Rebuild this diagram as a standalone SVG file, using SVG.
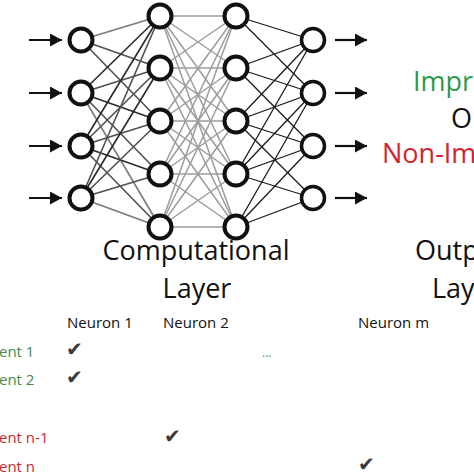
<svg xmlns="http://www.w3.org/2000/svg" width="474" height="474" viewBox="0 0 474 474">
<style>
.n{fill:#fff;stroke:#111;stroke-width:4}
.no{fill:#fff;stroke:#111;stroke-width:3.5}
.c1{stroke:#2a2a2a;stroke-width:1.6}
.c2{stroke:#505050;stroke-width:1.6}
.c3{stroke:#7a7a7a;stroke-width:1.6}
.h{stroke:#9c9c9c;stroke-width:1.5}
.o{stroke:#1a1a1a;stroke-width:1.3}
.arr{stroke:#111;stroke-width:2.2;fill:none}
.big{font-family:"Open Sans","DejaVu Sans",sans-serif;font-size:27px;fill:#111}
.sm{font-family:"Open Sans","DejaVu Sans",sans-serif;font-size:15px;fill:#111}
.gl{font-family:"Open Sans","DejaVu Sans",sans-serif;font-size:15px;fill:#3f8a55}
.rl{font-family:"Open Sans","DejaVu Sans",sans-serif;font-size:15px;fill:#c8283a}
.ck{font-family:"DejaVu Sans",sans-serif;font-size:20px;fill:#3a3a3a}
</style>
<defs>
<marker id="ah" markerUnits="userSpaceOnUse" markerWidth="12" markerHeight="13" refX="12" refY="6.5" orient="auto"><path d="M0,0 L12,6.5 L0,13 z" fill="#111"/></marker>
<marker id="ah2" markerUnits="userSpaceOnUse" markerWidth="12" markerHeight="13" refX="12" refY="6.5" orient="auto"><path d="M0,0 L12,6.5 L0,13 z" fill="#111"/></marker>
</defs>
<g id="connectors">
<line class="arr" x1="29" y1="40" x2="62" y2="40" marker-end="url(#ah)"/>
<line class="arr" x1="29" y1="93" x2="62" y2="93" marker-end="url(#ah)"/>
<line class="arr" x1="29" y1="146" x2="62" y2="146" marker-end="url(#ah)"/>
<line class="arr" x1="29" y1="198" x2="62" y2="198" marker-end="url(#ah)"/>
<line class="arr" x1="335" y1="40" x2="367" y2="40" marker-end="url(#ah2)"/>
<line class="arr" x1="335" y1="93" x2="367" y2="93" marker-end="url(#ah2)"/>
<line class="arr" x1="335" y1="146" x2="367" y2="146" marker-end="url(#ah2)"/>
<line class="arr" x1="335" y1="198" x2="367" y2="198" marker-end="url(#ah2)"/>
<line class="c3" x1="81" y1="40" x2="160" y2="16"/>
<line class="c2" x1="81" y1="40" x2="160" y2="68"/>
<line class="c2" x1="81" y1="40" x2="160" y2="121"/>
<line class="c1" x1="81" y1="93" x2="160" y2="16"/>
<line class="c2" x1="81" y1="93" x2="160" y2="68"/>
<line class="c1" x1="81" y1="93" x2="160" y2="121"/>
<line class="c2" x1="81" y1="93" x2="160" y2="174"/>
<line class="c3" x1="81" y1="93" x2="160" y2="227"/>
<line class="c1" x1="81" y1="146" x2="160" y2="16"/>
<line class="c2" x1="81" y1="146" x2="160" y2="68"/>
<line class="c2" x1="81" y1="146" x2="160" y2="121"/>
<line class="c1" x1="81" y1="146" x2="160" y2="174"/>
<line class="c2" x1="81" y1="146" x2="160" y2="227"/>
<line class="c2" x1="81" y1="198" x2="160" y2="16"/>
<line class="c1" x1="81" y1="198" x2="160" y2="68"/>
<line class="c2" x1="81" y1="198" x2="160" y2="121"/>
<line class="c2" x1="81" y1="198" x2="160" y2="174"/>
<line class="c3" x1="81" y1="198" x2="160" y2="227"/>
<line class="h" x1="160" y1="16" x2="236" y2="16"/>
<line class="h" x1="160" y1="16" x2="236" y2="68"/>
<line class="h" x1="160" y1="16" x2="236" y2="121"/>
<line class="h" x1="160" y1="16" x2="236" y2="174"/>
<line class="h" x1="160" y1="16" x2="236" y2="227"/>
<line class="h" x1="160" y1="68" x2="236" y2="16"/>
<line class="h" x1="160" y1="68" x2="236" y2="68"/>
<line class="h" x1="160" y1="68" x2="236" y2="121"/>
<line class="h" x1="160" y1="68" x2="236" y2="174"/>
<line class="h" x1="160" y1="68" x2="236" y2="227"/>
<line class="h" x1="160" y1="121" x2="236" y2="16"/>
<line class="h" x1="160" y1="121" x2="236" y2="68"/>
<line class="h" x1="160" y1="121" x2="236" y2="121"/>
<line class="h" x1="160" y1="121" x2="236" y2="174"/>
<line class="h" x1="160" y1="121" x2="236" y2="227"/>
<line class="h" x1="160" y1="174" x2="236" y2="16"/>
<line class="h" x1="160" y1="174" x2="236" y2="68"/>
<line class="h" x1="160" y1="174" x2="236" y2="121"/>
<line class="h" x1="160" y1="174" x2="236" y2="174"/>
<line class="h" x1="160" y1="174" x2="236" y2="227"/>
<line class="h" x1="160" y1="227" x2="236" y2="16"/>
<line class="h" x1="160" y1="227" x2="236" y2="68"/>
<line class="h" x1="160" y1="227" x2="236" y2="121"/>
<line class="h" x1="160" y1="227" x2="236" y2="174"/>
<line class="h" x1="160" y1="227" x2="236" y2="227"/>
<line class="o" x1="236" y1="16" x2="313" y2="40"/>
<line class="o" x1="236" y1="16" x2="313" y2="93"/>
<line class="o" x1="236" y1="68" x2="313" y2="40"/>
<line class="o" x1="236" y1="68" x2="313" y2="93"/>
<line class="o" x1="236" y1="68" x2="313" y2="146"/>
<line class="o" x1="236" y1="121" x2="313" y2="40"/>
<line class="o" x1="236" y1="121" x2="313" y2="93"/>
<line class="o" x1="236" y1="121" x2="313" y2="146"/>
<line class="o" x1="236" y1="121" x2="313" y2="198"/>
<line class="o" x1="236" y1="174" x2="313" y2="40"/>
<line class="o" x1="236" y1="174" x2="313" y2="93"/>
<line class="o" x1="236" y1="174" x2="313" y2="146"/>
<line class="o" x1="236" y1="174" x2="313" y2="198"/>
<line class="o" x1="236" y1="227" x2="313" y2="93"/>
<line class="o" x1="236" y1="227" x2="313" y2="146"/>
<line class="o" x1="236" y1="227" x2="313" y2="198"/>
</g>
<g id="input-layer">
<circle id="in1" class="n" cx="81" cy="40" r="11.5"/>
<circle id="in2" class="n" cx="81" cy="93" r="11.5"/>
<circle id="in3" class="n" cx="81" cy="146" r="11.5"/>
<circle id="in4" class="n" cx="81" cy="198" r="11.5"/>
</g>
<g id="hidden-layer-1">
<circle id="h1a" class="n" cx="160" cy="16" r="11.5"/>
<circle id="h1b" class="n" cx="160" cy="68" r="11.5"/>
<circle id="h1c" class="n" cx="160" cy="121" r="11.5"/>
<circle id="h1d" class="n" cx="160" cy="174" r="11.5"/>
<circle id="h1e" class="n" cx="160" cy="227" r="11.5"/>
</g>
<g id="hidden-layer-2">
<circle id="h2a" class="n" cx="236" cy="16" r="11.5"/>
<circle id="h2b" class="n" cx="236" cy="68" r="11.5"/>
<circle id="h2c" class="n" cx="236" cy="121" r="11.5"/>
<circle id="h2d" class="n" cx="236" cy="174" r="11.5"/>
<circle id="h2e" class="n" cx="236" cy="227" r="11.5"/>
</g>
<g id="output-layer">
<circle id="out1" class="no" cx="313" cy="40" r="11.5"/>
<circle id="out2" class="no" cx="313" cy="93" r="11.5"/>
<circle id="out3" class="no" cx="313" cy="146" r="11.5"/>
<circle id="out4" class="no" cx="313" cy="198" r="11.5"/>
</g>
<g id="labels">
<text x="413" y="91" font-family="Open Sans, DejaVu Sans, sans-serif" font-size="27" fill="#2f9a4c">Impr</text>
<text x="451" y="128" font-family="Open Sans, DejaVu Sans, sans-serif" font-size="27" fill="#111">O</text>
<text x="382" y="163" font-family="Open Sans, DejaVu Sans, sans-serif" font-size="27" fill="#d0242c">Non-Im</text>
<text class="big" x="196" y="260" text-anchor="middle">Computational</text>
<text class="big" x="197" y="298" text-anchor="middle">Layer</text>
<text class="big" x="415" y="260">Outp</text>
<text class="big" x="432" y="298">Lay</text>
</g>
<g id="table">
<text class="sm" x="67" y="328">Neuron 1</text>
<text class="sm" x="163" y="328">Neuron 2</text>
<text class="sm" x="358" y="328">Neuron m</text>
<text class="gl" x="-1" y="357">ent 1</text>
<text class="gl" x="-1" y="385">ent 2</text>
<text class="rl" x="-1" y="443">ent n-1</text>
<text class="rl" x="-1" y="472">ent n</text>
<text class="ck" x="66" y="356">✔</text>
<text class="ck" x="66" y="384">✔</text>
<text class="ck" x="164" y="443">✔</text>
<text class="ck" x="358" y="471">✔</text>
<text x="262" y="357" font-family="Open Sans, DejaVu Sans, sans-serif" font-size="12" fill="#4a7a5a">...</text>
</g>
</svg>
